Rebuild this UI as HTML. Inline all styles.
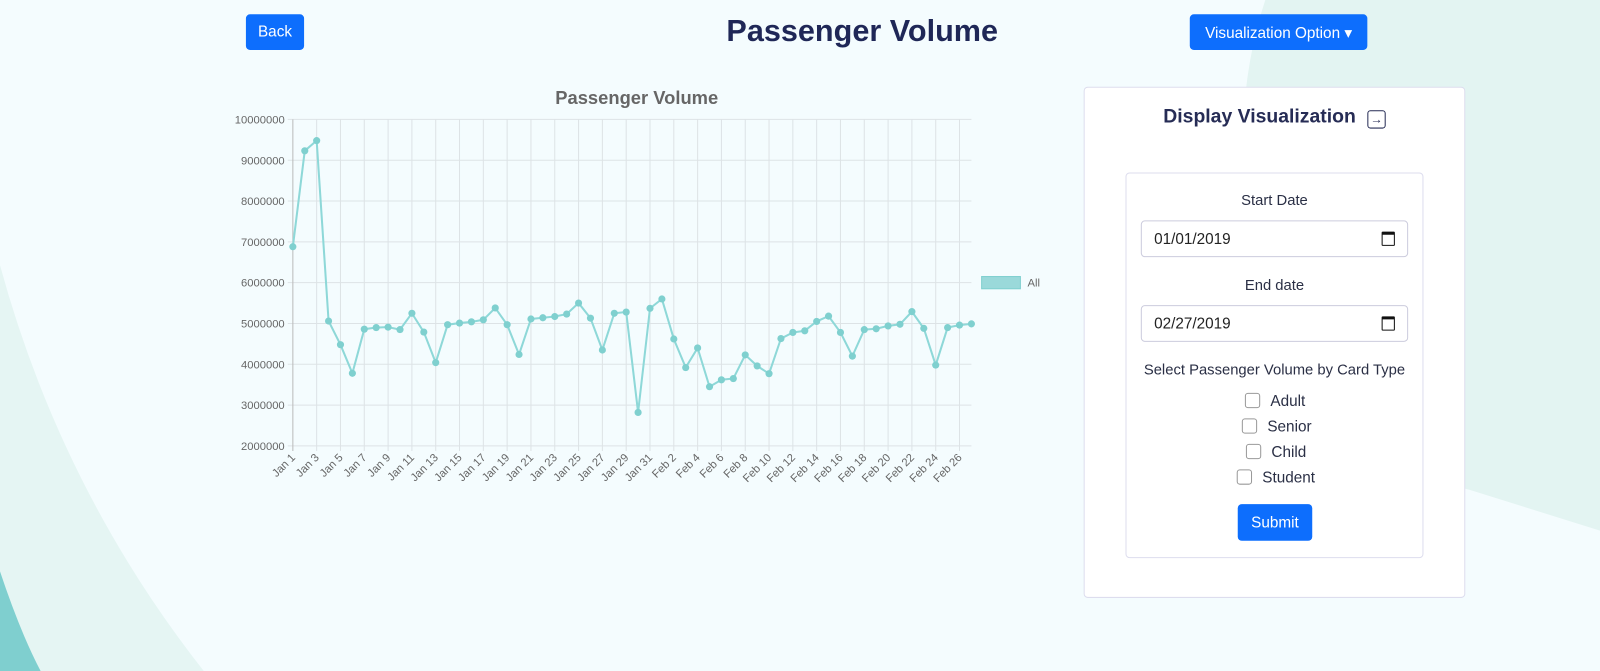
<!DOCTYPE html>
<html><head><meta charset="utf-8"><style>
body{margin:0;width:1600px;height:671px;background:#f4fcfe;font-family:"Liberation Sans",sans-serif;position:relative;overflow:hidden}
#wrap{position:absolute;left:0;top:0;width:1568px;height:658px;transform:scale(1.0204);transform-origin:0 0}
.abs{position:absolute}
.btn{background:#0d6efd;color:#fff;border-radius:4px;font-size:15px;display:flex;align-items:center;justify-content:center}
.lbl{position:absolute;width:100%;text-align:center;color:#2a2f45;font-size:14.5px}
.inp{position:absolute;left:14px;width:262px;height:36px;border:1px solid #ccd;border-radius:4px;background:#fff;font-size:15px;color:#222;box-sizing:border-box;padding:9px 12px}
.cal{float:right;width:11px;height:10px;border:1.5px solid #111;border-top-width:3px;border-radius:1px;margin-top:1px}
.cb{position:absolute;font-size:15px;color:#2a2f45}
.cb span{display:inline-block;width:13px;height:13px;border:1px solid #999;border-radius:3px;background:#fff;vertical-align:-2px;margin-right:10px}
</style></head><body>
<div id="wrap">
<svg class="abs" style="left:0;top:0" width="1568" height="658">
<path d="M1240,0 Q1200,120 1230,300 Q1270,440 1440,480 L1568,520 L1568,0 Z" fill="#e3f4f2"/>
<path d="M0,260 Q60,480 200,658 L0,658 Z" fill="#e5f5f3"/>
<path d="M0,560 Q20,620 40,658 L0,658 Z" fill="#7fcfcf"/>
</svg>
<div class="abs btn" style="left:241px;top:14px;width:57px;height:35px">Back</div>
<div class="abs" style="left:600px;top:14px;width:490px;text-align:center;font-size:30px;font-weight:bold;color:#1f2757">Passenger Volume</div>
<div class="abs btn" style="left:1166px;top:14px;width:174px;height:35px">Visualization Option ▾</div>

<svg id="chart" class="abs" style="left:0;top:80px" width="1040" height="420"></svg>

<div class="abs" style="left:1062px;top:85px;width:372px;height:499px;background:#fff;border:1px solid #dde;border-radius:4px">
<div class="abs" style="left:0;top:18px;width:100%;text-align:center;font-size:19px;font-weight:bold;color:#262c55">Display Visualization <span style="display:inline-block;width:16px;height:16px;border:1.5px solid #262c55;border-radius:3px;font-size:12px;line-height:16px;vertical-align:-1px;margin-left:6px">→</span></div>
<div class="abs" style="left:40px;top:83px;width:290px;height:376px;border:1px solid #dde;border-radius:4px">
<div class="lbl" style="top:19px">Start Date</div>
<div class="inp" style="top:46px">01/01/2019<span class="cal"></span></div>
<div class="lbl" style="top:102px">End date</div>
<div class="inp" style="top:129px">02/27/2019<span class="cal"></span></div>
<div class="lbl" style="top:185px">Select Passenger Volume by Card Type</div>
<div class="cb" style="left:116px;top:215px"><span></span>Adult</div>
<div class="cb" style="left:113px;top:240px"><span></span>Senior</div>
<div class="cb" style="left:117px;top:265px"><span></span>Child</div>
<div class="cb" style="left:108px;top:290px"><span></span>Student</div>
<div class="abs btn" style="left:109px;top:324px;width:73px;height:36px">Submit</div>
</div></div>
</div>
<script>
const categories=[];
for(let d=1;d<=31;d++)categories.push('Jan '+d);
for(let d=1;d<=27;d++)categories.push('Feb '+d);
const values=[6.88,9.23,9.48,5.06,4.48,3.78,4.86,4.90,4.91,4.85,5.25,4.79,4.04,4.97,5.01,5.04,5.09,5.38,4.97,4.24,5.11,5.14,5.17,5.23,5.50,5.13,4.35,5.25,5.28,2.82,5.37,5.60,4.62,3.92,4.40,3.45,3.62,3.65,4.23,3.96,3.77,4.63,4.78,4.82,5.05,5.18,4.78,4.20,4.85,4.87,4.94,4.98,5.29,4.88,3.98,4.90,4.96,4.99].map(v=>v*1e6);
const yTicks=[2000000,3000000,4000000,5000000,6000000,7000000,8000000,9000000,10000000];
const seriesName='All';
const NS='http://www.w3.org/2000/svg',svg=document.getElementById('chart');
const X0=287,X1=952,Y0=37,Y1=357,ymin=2e6,ymax=1e7;
const x=i=>X0+(X1-X0)*i/(categories.length-1);
const y=v=>Y1-(v-ymin)/(ymax-ymin)*(Y1-Y0);
function mk(t,a){const e=document.createElementNS(NS,t);for(const k in a)e.setAttribute(k,a[k]);svg.appendChild(e);return e;}
let t=mk('text',{x:624,y:22,'text-anchor':'middle','font-size':18,'font-weight':'bold',fill:'#666'});t.textContent='Passenger Volume';


yTicks.forEach(v=>{const l=mk('line',{x1:X0-5,x2:X1,y1:y(v),y2:y(v),stroke:'#dde3e6'});


const tx=mk('text',{x:X0-8,y:y(v)+4,'text-anchor':'end','font-size':11,fill:'#666'});tx.textContent=v;

});
categories.forEach((c,i)=>{if(i%2)return;
const l=mk('line',{x1:x(i),x2:x(i),y1:Y0,y2:Y1+5,stroke:i==0?'#bbb':'#dde3e6'});


const tx=mk('text',{x:x(i)+3,y:Y1+12,'text-anchor':'end','font-size':11,fill:'#666',transform:`rotate(-45 ${x(i)+3} ${Y1+12})`});tx.textContent=c;

});
const p=mk('polyline',{points:values.map((v,i)=>x(i)+','+y(v)).join(' '),fill:'none',stroke:'#8ed8d8','stroke-width':2});


values.forEach((v,i)=>{const c=mk('circle',{cx:x(i),cy:y(v),r:3.5,fill:'#7fd0cf'});

});
const lr=mk('rect',{x:962,y:191,width:38,height:12,fill:'#9ad9da',stroke:'#7fcfcf'});


const lt=mk('text',{x:1007,y:201,'font-size':11,fill:'#666'});lt.textContent=seriesName;


</script>
</body></html>
